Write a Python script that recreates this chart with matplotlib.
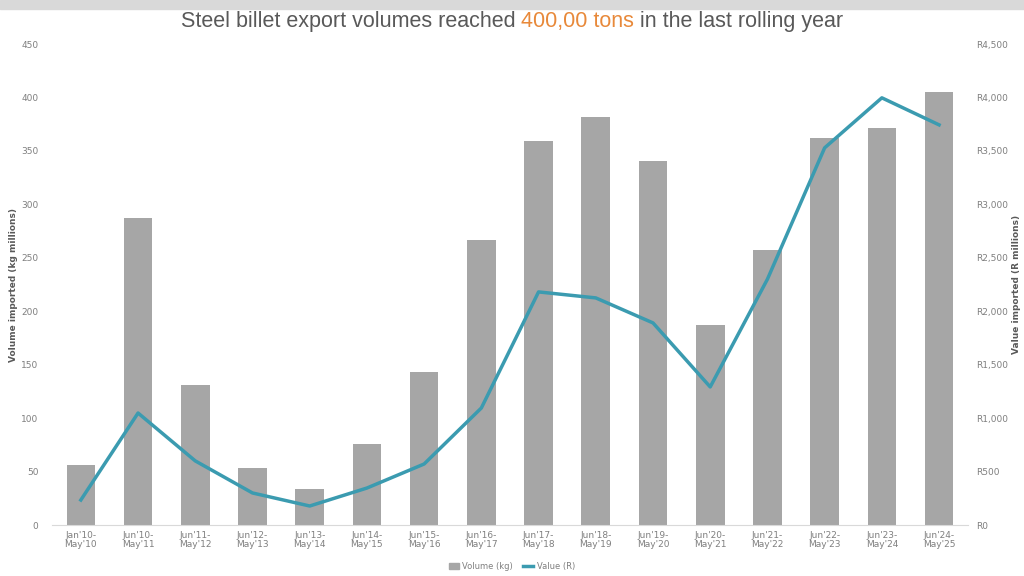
import matplotlib.pyplot as plt
import numpy as np
from matplotlib.patches import Rectangle
from matplotlib.lines import Line2D

periods = ["Jan'10-\nMay'10", "Jun'10-\nMay'11", "Jun'11-\nMay'12", "Jun'12-\nMay'13",
           "Jun'13-\nMay'14", "Jun'14-\nMay'15", "Jun'15-\nMay'16", "Jun'16-\nMay'17",
           "Jun'17-\nMay'18", "Jun'18-\nMay'19", "Jun'19-\nMay'20", "Jun'20-\nMay'21",
           "Jun'21-\nMay'22", "Jun'22-\nMay'23", "Jun'23-\nMay'24", "Jun'24-\nMay'25"]
volume_kg = [56, 287, 131, 53, 34, 76, 143, 267, 359, 382, 341, 187, 257, 362, 371, 405]
value_r = [234, 1048, 600, 300, 178, 346, 571, 1095, 2181, 2125, 1891, 1292, 2300, 3529, 3997, 3744]

grey = '#a6a6a6'
teal = '#3b9bb0'
txt = '#7f7f7f'

fig = plt.figure(figsize=(10.24, 5.76), dpi=100)
fig.patches.append(Rectangle((0, 0.985), 1, 0.015, transform=fig.transFigure,
                             color='#d9d9d9', zorder=0))
ax = fig.add_axes([0.051, 0.0885, 0.894, 0.835])
ax2 = ax.twinx()

x = np.arange(len(periods))
ax.bar(x, volume_kg, width=0.5, color=grey, zorder=2)
ax2.plot(x, value_r, color=teal, lw=2.5, zorder=3)

ax.set_xlim(-0.5, len(periods) - 0.5)
ax.set_ylim(0, 450)
ax2.set_ylim(0, 4500)
ax.set_yticks(np.arange(0, 451, 50))
ax2.set_yticks(np.arange(0, 4501, 500))
ax2.set_yticklabels(['R{:,}'.format(v) for v in range(0, 4501, 500)])
ax.set_xticks(x)
ax.set_xticklabels(periods, fontsize=6.5, color=txt, linespacing=1.1)

for a in (ax, ax2):
    for s in a.spines.values():
        s.set_visible(False)
    a.tick_params(length=0, labelsize=6.5, labelcolor=txt)
ax.spines['bottom'].set_visible(True)
ax.spines['bottom'].set_color('#d9d9d9')
ax.tick_params(axis='y', pad=10)
ax2.tick_params(axis='y', pad=6)
ax.tick_params(axis='x', pad=4)

ax.set_ylabel('Volume imported (kg millions)', fontsize=6.5, color='#595959',
              fontweight='bold', labelpad=2)
ax2.set_ylabel('Value imported (R millions)', fontsize=6.5, color='#595959',
               fontweight='bold', labelpad=3)

handles = [Rectangle((0, 0), 1, 1, color=grey),
           Line2D([], [], color=teal, lw=2.5)]
fig.legend(handles, ['Volume (kg)', 'Value (R)'], loc='center', bbox_to_anchor=(0.5, 0.017),
           ncol=2, frameon=False, fontsize=6, labelcolor=txt, handlelength=1.2,
           handleheight=0.8, columnspacing=1.2, handletextpad=0.4)

# multi-colour title
parts = [('Steel billet export volumes reached ', '#595959'),
         ('400,00 tons', '#e8893a'),
         (' in the last rolling year', '#595959')]
fig.canvas.draw()
r = fig.canvas.get_renderer()
texts = []
for s, c in parts:
    texts.append(fig.text(0, 0.963, s, fontsize=15.5, color=c, va='center', ha='left',
                          family='Liberation Sans'))
widths = [t.get_window_extent(r).width for t in texts]
total = sum(widths)
xpos = (fig.bbox.width - total) / 2
for t, w in zip(texts, widths):
    t.set_x(xpos / fig.bbox.width)
    xpos += w

fig.savefig('out.png', dpi=100)
